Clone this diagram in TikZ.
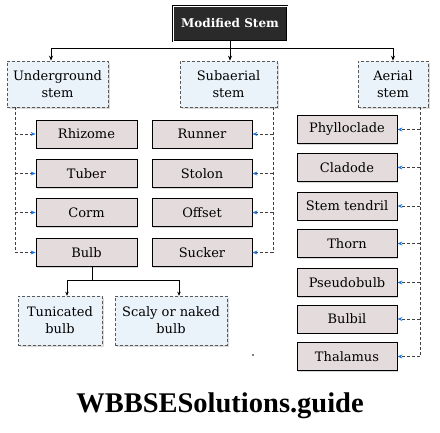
\documentclass[tikz,border=0pt]{standalone}
\usepackage{fontspec}
\setmainfont{DejaVu Serif}
\newfontfamily\wmfont{Liberation Serif}
\usetikzlibrary{arrows.meta,shadows}
\definecolor{itemfill}{HTML}{E4DCDC}
\definecolor{catfill}{HTML}{EAF3FA}
\definecolor{topfill}{HTML}{2B2A2A}
\definecolor{tipblue}{HTML}{1F78E0}
\begin{document}
\begin{tikzpicture}[x=1pt,y=-1pt,
  topbox/.style={draw=black,line width=0.9pt,double=white,double distance=0.9pt,fill=topfill,
    text=white,font=\fontsize{12}{13}\selectfont\bfseries,inner sep=0pt},
  catbox/.style={draw=gray!70!black,densely dashed,line width=0.6pt,fill=catfill,
    drop shadow={shadow xshift=1.5pt,shadow yshift=-1.5pt,fill=gray!55},
    align=center,font=\fontsize{13}{17}\selectfont,inner sep=0pt},
  itembox/.style={draw=black,line width=0.9pt,fill=itemfill,
    drop shadow={shadow xshift=1.2pt,shadow yshift=-1.2pt,fill=gray!60},
    minimum height=28pt,inner sep=0pt,font=\fontsize{13}{14}\selectfont},
  mainarrow/.style={line width=0.8pt,-{Stealth[length=5pt,width=4pt]}},
  subline/.style={gray!50!black,densely dashed,line width=0.6pt},
  subarrow/.style={subline,-{Stealth[length=5pt,width=4pt,color=tipblue]}}
]
\useasboundingbox (0,0) rectangle (440,432);
\fill[white] (0,0) rectangle (440,432);

% top
\node[topbox,minimum width=114pt,minimum height=35pt] (ms) at (230,23.5) {Modified Stem};
\coordinate (hub) at (230,48);

% categories
\node[catbox,minimum width=101pt,minimum height=46pt] (ug) at (57.5,84) {Underground\\stem};
\node[catbox,minimum width=97pt,minimum height=46pt] (sa) at (228.5,84) {Subaerial\\stem};
\node[catbox,minimum width=70pt,minimum height=46pt] (ae) at (393,84) {Aerial\\stem};

\coordinate (ugt) at (51,48);
\coordinate (aet) at (393,48);
\draw[line width=0.8pt] (ms.south) -- (hub);
\draw[line width=0.8pt] (ugt) -- (aet);
\draw[mainarrow] (ugt) -- (ugt |- ug.north);
\draw[mainarrow] (hub) -- (hub |- sa.north);
\draw[mainarrow] (aet) -- (aet |- ae.north);

% underground items
\node[itembox,minimum width=101pt] (rh) at (86.5,134) {Rhizome};
\node[itembox,minimum width=101pt] (tu) at (86.5,173.5) {Tuber};
\node[itembox,minimum width=101pt] (co) at (86.5,212.5) {Corm};
\node[itembox,minimum width=101pt] (bu) at (86.5,252.5) {Bulb};

% subaerial items
\node[itembox,minimum width=100pt] (ru) at (202,134) {Runner};
\node[itembox,minimum width=100pt] (st) at (202,173.5) {Stolon};
\node[itembox,minimum width=100pt] (of) at (202,212.5) {Offset};
\node[itembox,minimum width=100pt] (su) at (202,252.5) {Sucker};

% aerial items
\node[itembox,minimum width=100pt] (ph) at (347,129.5) {Phylloclade};
\node[itembox,minimum width=100pt] (cl) at (347,167.5) {Cladode};
\node[itembox,minimum width=100pt] (te) at (347,206) {Stem tendril};
\node[itembox,minimum width=100pt] (th) at (347,243.5) {Thorn};
\node[itembox,minimum width=100pt] (ps) at (347,282.5) {Pseudobulb};
\node[itembox,minimum width=100pt] (bb) at (347,319) {Bulbil};
\node[itembox,minimum width=100pt] (tl) at (347,356.5) {Thalamus};

% left bus
\coordinate (lb0) at (15,107);
\draw[subline] (lb0) -- (lb0 |- bu.west);
\foreach \n in {rh,tu,co,bu} \draw[subarrow] (lb0 |- \n.west) -- (\n.west);

% middle bus
\coordinate (mb0) at (273,107);
\draw[subline] (mb0) -- (mb0 |- su.east);
\foreach \n in {ru,st,of,su} \draw[subarrow] (mb0 |- \n.east) -- (\n.east);

% right bus
\coordinate (rb0) at (420,107);
\draw[subline] (rb0) -- (rb0 |- tl.east);
\foreach \n in {ph,cl,te,th,ps,bb,tl} \draw[subarrow] (rb0 |- \n.east) -- (\n.east);

% bulb types
\node[catbox,minimum width=84pt,minimum height=49pt] (tb) at (60,320.5) {Tunicated\\bulb};
\node[catbox,minimum width=112pt,minimum height=49pt] (sb) at (171,320.5) {Scaly or naked\\bulb};
\coordinate (bj) at (92,280);
\coordinate (bl) at (67,280);
\coordinate (br) at (179,280);
\draw[line width=0.7pt] (bj |- bu.south) -- (bj);
\draw[line width=0.7pt] (bl) -- (br);
\draw[line width=0.7pt,-{Stealth[length=4pt,width=3.5pt]}] (bl) -- (bl |- tb.north);
\draw[line width=0.7pt,-{Stealth[length=4pt,width=3.5pt]}] (br) -- (br |- sb.north);

\fill[black] (253,355) circle (0.9pt);

% watermark
\node[font=\wmfont\fontsize{28.5}{29}\selectfont\bfseries] (wm) at (220,406) {WBBSESolutions.guide};
\end{tikzpicture}
\end{document}
